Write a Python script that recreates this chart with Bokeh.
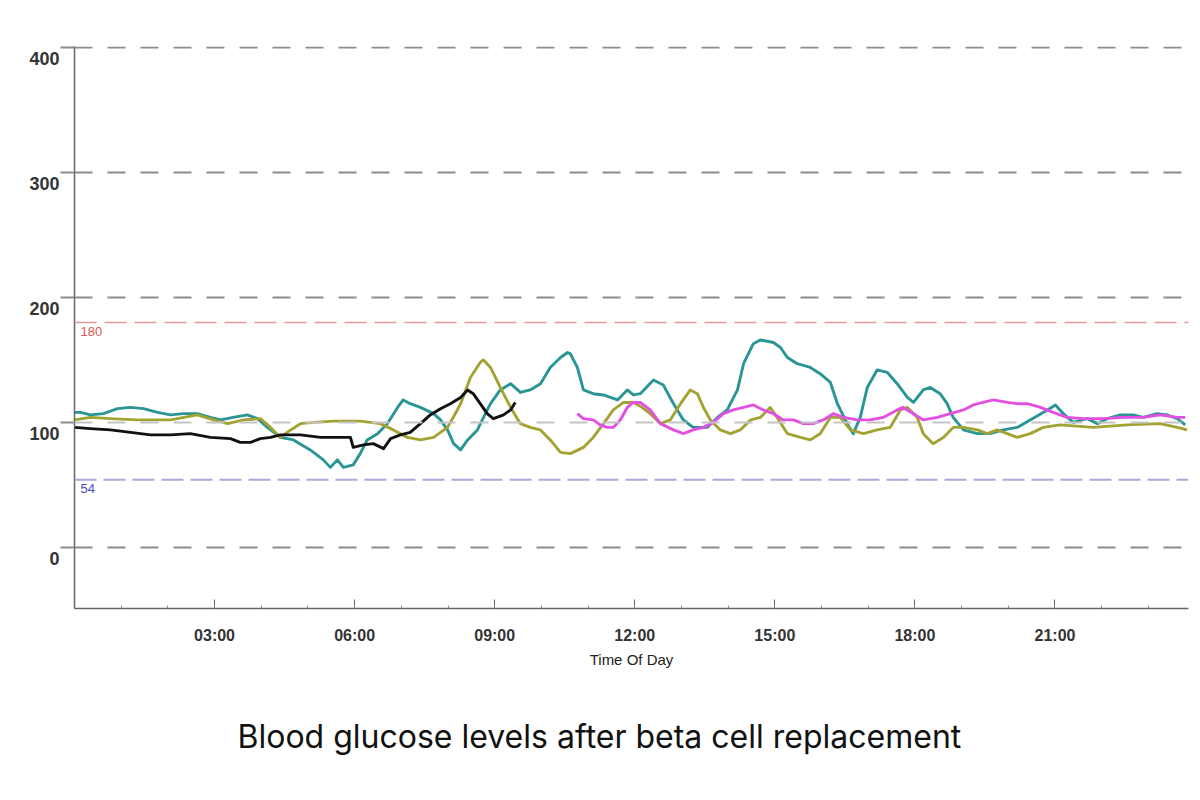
from bokeh.plotting import figure
from bokeh.models import Range1d, FixedTicker, Span, Label, LinearAxis
from bokeh.embed import file_html
from bokeh.resources import INLINE

# ---- data (time of day in hours, glucose mg/dL) ----
teal_t = [0.0, 0.13, 0.34, 0.62, 0.92, 1.20, 1.48, 1.78, 2.06, 2.33, 2.63, 2.91, 3.13, 3.40, 3.70, 3.92,
          4.13, 4.20, 4.41, 4.69, 5.05, 5.33, 5.48, 5.63, 5.76, 5.97, 6.12, 6.27, 6.49, 6.70, 6.92, 7.04,
          7.19, 7.41, 7.69, 7.84, 7.99, 8.12, 8.27, 8.42, 8.63, 8.76, 8.91, 9.12, 9.34, 9.55, 9.76, 9.98,
          10.19, 10.41, 10.56, 10.62, 10.77, 10.90, 11.11, 11.33, 11.63, 11.84, 11.97, 12.12, 12.40, 12.61,
          12.83, 13.04, 13.25, 13.55, 13.77, 13.98, 14.20, 14.33, 14.54, 14.69, 14.97, 15.12, 15.27, 15.48,
          15.76, 15.97, 16.19, 16.34, 16.55, 16.68, 16.83, 16.98, 17.19, 17.41, 17.62, 17.84, 17.97, 18.18,
          18.33, 18.54, 18.69, 18.82, 19.04, 19.34, 19.61, 19.89, 20.19, 20.47, 20.84, 21.01, 21.18, 21.39,
          21.69, 21.91, 22.12, 22.40, 22.68, 22.89, 23.19, 23.40, 23.62, 23.79]
teal_v = [108, 108, 106, 107, 111, 112, 111, 108, 106, 107, 107, 104, 102, 104, 106, 103,
          96, 94, 88, 86, 78, 70, 64, 70, 64, 66, 75, 86, 91, 99, 112, 118,
          115, 112, 107, 102, 94, 83, 78, 86, 94, 104, 115, 126, 131, 124, 126, 131,
          144, 152, 156, 155, 144, 126, 123, 122, 118, 126, 122, 123, 134, 130,
          115, 102, 96, 96, 104, 110, 126, 147, 163, 166, 164, 160, 152, 147,
          144, 139, 132, 115, 99, 91, 104, 128, 142, 140, 131, 120, 116, 126,
          128, 123, 115, 104, 94, 91, 91, 94, 96, 102, 110, 114, 107, 100,
          103, 99, 103, 106, 106, 104, 107, 106, 103, 98]

olive_t = [0.0, 0.34, 0.77, 1.35, 2.06, 2.63, 2.98, 3.28, 3.62, 3.98, 4.20, 4.41, 4.63, 4.84, 5.12,
           5.55, 6.12, 6.55, 6.83, 7.13, 7.41, 7.69, 7.99, 8.20, 8.27, 8.48, 8.69, 8.76, 8.91, 9.12,
           9.34, 9.55, 9.76, 9.98, 10.19, 10.41, 10.62, 10.90, 11.11, 11.33, 11.54, 11.76, 11.97, 12.12,
           12.33, 12.55, 12.76, 12.98, 13.19, 13.34, 13.47, 13.62, 13.83, 14.05, 14.26, 14.48, 14.69,
           14.90, 15.05, 15.27, 15.55, 15.76, 15.97, 16.19, 16.40, 16.62, 16.90, 17.19, 17.47, 17.69,
           17.84, 18.05, 18.18, 18.39, 18.61, 18.82, 19.04, 19.34, 19.55, 19.76, 19.98, 20.19, 20.47,
           20.75, 21.11, 21.82, 22.55, 23.25, 23.62, 23.83]
olive_v = [102, 104, 103, 102, 102, 106, 102, 99, 102, 103, 96, 88, 94, 99, 100,
           101, 101, 99, 94, 88, 86, 88, 96, 110, 115, 136, 148, 150, 144, 128,
           112, 99, 96, 94, 86, 76, 75, 80, 88, 99, 110, 116, 116, 113,
           107, 99, 102, 115, 126, 123, 112, 102, 94, 91, 94, 102, 104,
           112, 104, 91, 88, 86, 91, 104, 104, 94, 91, 94, 96, 110,
           112, 104, 91, 83, 88, 96, 96, 94, 91, 94, 91, 88, 91,
           96, 98, 96, 98, 99, 96, 94]

black_t = [0.0, 0.34, 0.77, 1.20, 1.63, 2.06, 2.48, 2.91, 3.34, 3.55, 3.77, 3.98, 4.20, 4.41, 4.84,
           5.27, 5.70, 5.91, 5.97, 6.19, 6.40, 6.62, 6.77, 6.98, 7.19, 7.41, 7.62, 7.84, 8.05, 8.27,
           8.42, 8.54, 8.69, 8.84, 8.97, 9.19, 9.34, 9.44]
black_v = [96, 95, 94, 92, 90, 90, 91, 88, 87, 84, 84, 87, 88, 90, 90,
           88, 88, 88, 80, 82, 83, 79, 87, 90, 92, 99, 106, 111, 115, 120,
           126, 123, 115, 107, 103, 106, 110, 116]

magenta_t = [10.77, 10.90, 11.11, 11.26, 11.41, 11.54, 11.69, 11.84, 11.97, 12.12, 12.33, 12.55, 12.83,
             13.04, 13.25, 13.47, 13.68, 13.90, 14.11, 14.33, 14.54, 14.75, 14.97, 15.18, 15.40, 15.61,
             15.82, 16.04, 16.25, 16.47, 16.77, 17.04, 17.32, 17.62, 17.75, 17.97, 18.18, 18.48, 18.76,
             19.04, 19.25, 19.46, 19.68, 19.98, 20.19, 20.41, 20.69, 20.96, 21.26, 21.61, 22.03, 22.46,
             22.89, 23.25, 23.62, 23.79]
magenta_v = [107, 103, 102, 98, 96, 96, 102, 112, 116, 116, 110, 99, 94,
             91, 94, 96, 100, 107, 110, 112, 114, 110, 107, 102, 102, 99,
             99, 102, 107, 104, 102, 102, 104, 110, 112, 107, 102, 104, 107,
             110, 114, 116, 118, 116, 115, 115, 112, 108, 104, 103, 103, 104,
             104, 106, 104, 104]

x_ticks = [3, 6, 9, 12, 15, 18, 21]
x_tick_labels = ["03:00", "06:00", "09:00", "12:00", "15:00", "18:00", "21:00"]
x_minor = list(range(1, 24))
y_ticks = [0, 100, 200, 300, 400]
y_tick_labels = ["0", "100", "200", "300", "400"]
hi_limit = 180
lo_limit = 54

p = figure(width=1192, height=800, x_range=Range1d(0, 23.86), y_range=Range1d(-49, 401),
           output_backend="svg", toolbar_location=None, title_location="below",
           min_border_left=74, min_border_right=4, min_border_top=46, min_border_bottom=192)
p.outline_line_color = None
p.background_fill_color = "white"
p.border_fill_color = "white"

# grid
p.xgrid.visible = False
p.ygrid.ticker = FixedTicker(ticks=[v for v in y_ticks if v != 100])
p.ygrid.grid_line_color = "#8c8c8c"
p.ygrid.grid_line_width = 2
p.ygrid.grid_line_dash = "18 15"
p.add_layout(Span(location=100, dimension="width", line_color="#c4c4c4", line_width=2,
                  line_dash="18 15"))

# threshold lines
p.add_layout(Span(location=hi_limit, dimension="width", line_color="#e39a9a", line_width=1.6,
                  line_dash="22 8"))
p.add_layout(Span(location=lo_limit, dimension="width", line_color="#a9a9dc", line_width=2,
                  line_dash="22 7"))
p.add_layout(Label(x=0, y=hi_limit, text=str(hi_limit), x_offset=6, y_offset=-4,
                   text_baseline="top", text_color="#e05555", text_font_size="13px",
                   text_font="Liberation Sans"))
p.add_layout(Label(x=0, y=lo_limit, text=str(lo_limit), x_offset=6, y_offset=-4,
                   text_baseline="top", text_color="#4a4ac4", text_font_size="13px",
                   text_font="Liberation Sans"))

# data lines
p.line(teal_t, teal_v, line_color="#2a9595", line_width=2.9, line_join="round")
p.line(olive_t, olive_v, line_color="#a3a333", line_width=2.9, line_join="round")
p.line(magenta_t, magenta_v, line_color="#e24fe2", line_width=2.9, line_join="round")
p.line(black_t, black_v, line_color="#111111", line_width=2.9, line_join="round")

# x axis
xa = p.xaxis[0]
xa.ticker = FixedTicker(ticks=x_ticks, minor_ticks=x_minor)
xa.major_label_overrides = {t: l for t, l in zip(x_ticks, x_tick_labels)}
xa.axis_label = "Time Of Day"
xa.axis_label_text_font = "Liberation Sans"
xa.axis_label_text_font_size = "15px"
xa.axis_label_text_font_style = "normal"
xa.axis_label_text_color = "#222222"
xa.axis_label_standoff = 4
xa.major_label_text_font = "Liberation Sans"
xa.major_label_text_font_size = "16px"
xa.major_label_text_font_style = "bold"
xa.major_label_text_color = "#333333"
xa.major_label_standoff = 18
xa.axis_line_color = "#666666"
xa.axis_line_width = 1.5
xa.major_tick_in = 9
xa.major_tick_out = 0
xa.minor_tick_in = 3
xa.minor_tick_out = 0
xa.major_tick_line_color = "#666666"
xa.minor_tick_line_color = "#888888"

# y axis: line + outward ticks at the grid values
ya = p.yaxis[0]
ya.ticker = FixedTicker(ticks=y_ticks)
ya.major_label_overrides = {v: "" for v in y_ticks}
ya.major_label_standoff = 0
ya.axis_line_color = "#666666"
ya.axis_line_width = 1.5
ya.major_tick_in = 0
ya.major_tick_out = 14
ya.major_tick_line_color = "#8c8c8c"
ya.major_tick_line_width = 2
ya.minor_tick_line_color = None

# y tick labels: the original prints them a little below each grid line
label_shift = 8.8
label_pos = [v - label_shift for v in y_ticks]
yl = LinearAxis(ticker=FixedTicker(ticks=label_pos))
yl.major_label_overrides = {pos: t for pos, t in zip(label_pos, y_tick_labels)}
yl.major_label_text_font = "Liberation Sans"
yl.major_label_text_font_size = "18px"
yl.major_label_text_font_style = "bold"
yl.major_label_text_color = "#333333"
yl.major_label_standoff = 1
yl.axis_line_color = None
yl.major_tick_line_color = None
yl.minor_tick_line_color = None
yl.major_tick_in = 0
yl.major_tick_out = 0
p.add_layout(yl, "left")

# caption
p.title.text = "Blood glucose levels after beta cell replacement"
p.title.align = "left"
p.title.offset = 163
p.title.text_font = "Inter"
p.title.text_font_size = "32px"
p.title.text_font_style = "normal"
p.title.text_color = "#111111"
p.title.standoff = 88

open("out.html", "w").write(file_html(p, INLINE))
